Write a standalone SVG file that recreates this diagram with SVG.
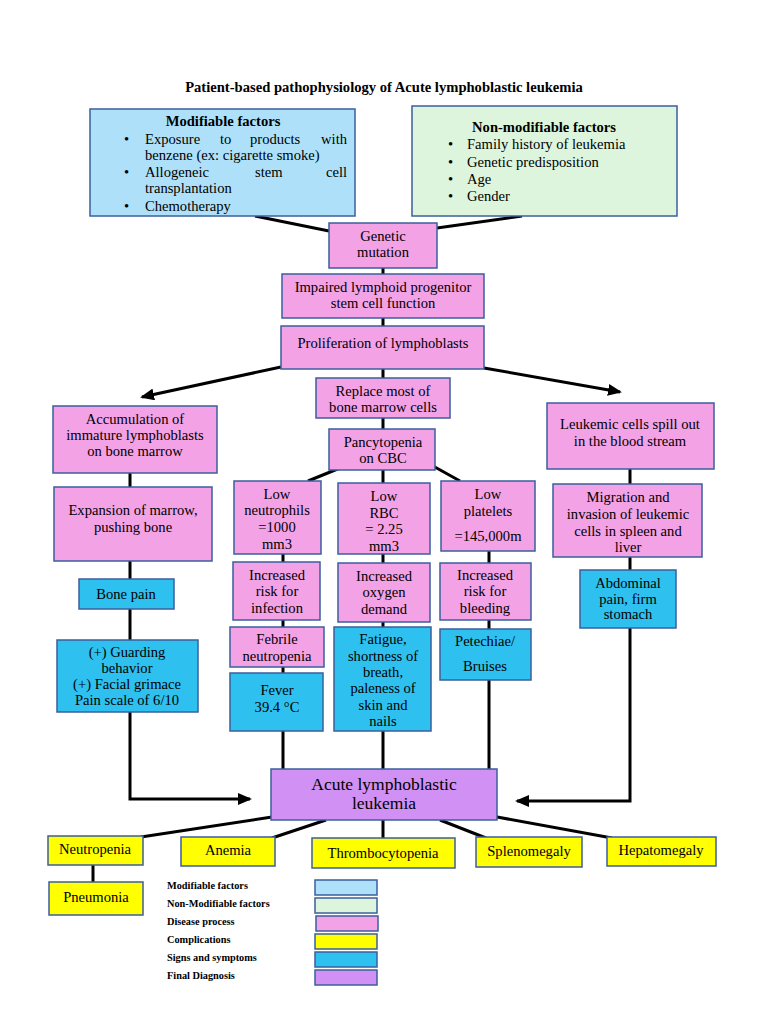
<svg xmlns="http://www.w3.org/2000/svg" width="768" height="1024" viewBox="0 0 768 1024">
<defs>
<marker id="ah2" markerWidth="14" markerHeight="12" refX="12" refY="6" orient="auto" markerUnits="userSpaceOnUse" viewBox="0 0 14 12">
<path d="M0,0 L14,6 L0,12 z" fill="#000"/>
</marker>
</defs>
<style>
text{font-family:"Liberation Serif","Times New Roman",serif;font-size:14.6px;fill:#000}
.c{text-anchor:middle}
.b{font-weight:bold}
.lg{font-size:10.3px;font-weight:bold}
rect{stroke:#3b5f9c;stroke-width:1.5}
.pk{fill:#f3a2e6}
.bl{fill:#2ec1ef}
.ye{fill:#ffff00}
.pu{fill:#d190f3}
.lb{fill:#aee1f9}
.lgn{fill:#ddf5dd}
.ln{stroke:#000;stroke-width:3;fill:none}
</style>
<rect width="768" height="1024" fill="#fff" style="stroke:none"/>
<text x="384" y="92" class="c b">Patient-based pathophysiology of Acute lymphoblastic leukemia</text>

<g id="connectors">
<path class="ln" d="M255,216 L329,231"/>
<path class="ln" d="M437,228 L522,216"/>
<path class="ln" d="M383,268 V274 M383,318 V326 M383,369 V378 M383,418 V429"/>
<path class="ln" d="M281,367 L142,397" marker-end="url(#ah2)"/>
<path class="ln" d="M484,368 L620,392" marker-end="url(#ah2)"/>
<path class="ln" d="M340,468 L308,481 M383,470 V483 M433,466 L460,481"/>
<path class="ln" d="M130,473 V487 M130,561 V579 M130,609 V640 M130,712 V799 L250,799" marker-end="url(#ah2)"/>
<path class="ln" d="M283,554 V562 M283,620 V627 M283,667 V673 M283,731 V769"/>
<path class="ln" d="M383,554 V563 M383,622 V627 M383,731 V769"/>
<path class="ln" d="M489,551 V563 M489,620 V629 M489,680 V769"/>
<path class="ln" d="M630,469 V484 M630,557 V570 M630,628 V801 L517,801" marker-end="url(#ah2)"/>
<path class="ln" d="M272,817 L141,837 M326,820 L272,838 M383,820 V838 M440,820 L486,838 M497,817 L612,838 M93,865 V882"/>
</g>

<g id="modifiable">
<rect x="90" y="109" width="265" height="107" class="lb"/>
<text x="223" y="126" class="c b">Modifiable factors</text>
<text x="124" y="144">•</text>
<text x="145" y="144">Exposure</text><text x="220" y="144">to</text><text x="250" y="144">products</text><text x="347" y="144" text-anchor="end">with</text>
<text x="145" y="160">benzene (ex: cigarette smoke)</text>
<text x="124" y="177">•</text>
<text x="145" y="177">Allogeneic</text><text x="255" y="177">stem</text><text x="347" y="177" text-anchor="end">cell</text>
<text x="145" y="193">transplantation</text>
<text x="124" y="211">•</text>
<text x="145" y="211">Chemotherapy</text>
</g>

<g id="nonmodifiable">
<rect x="412" y="106" width="265" height="110" class="lgn"/>
<text x="544" y="132" class="c b">Non-modifiable factors</text>
<text x="448" y="149">•</text><text x="467" y="149">Family history of leukemia</text>
<text x="448" y="167">•</text><text x="467" y="167">Genetic predisposition</text>
<text x="448" y="184">•</text><text x="467" y="184">Age</text>
<text x="448" y="201">•</text><text x="467" y="201">Gender</text>
</g>

<g id="genetic"><rect x="329" y="223" width="108" height="45" class="pk"/>
<text x="383" y="241" class="c">Genetic</text><text x="383" y="257" class="c">mutation</text></g>

<g id="impaired"><rect x="282" y="274" width="202" height="44" class="pk"/>
<text x="383" y="292" class="c">Impaired lymphoid progenitor</text><text x="383" y="308" class="c">stem cell function</text></g>

<g id="proliferation"><rect x="281" y="326" width="203" height="43" class="pk"/>
<text x="383" y="348" class="c">Proliferation of lymphoblasts</text></g>

<g id="replace"><rect x="316" y="378" width="134" height="40" class="pk"/>
<text x="383" y="396" class="c">Replace most of</text><text x="383" y="412" class="c">bone marrow cells</text></g>

<g id="pancytopenia"><rect x="329" y="429" width="106" height="41" class="pk"/>
<text x="383" y="447" class="c">Pancytopenia</text><text x="383" y="463" class="c">on CBC</text></g>

<g id="accumulation"><rect x="53" y="406" width="164" height="67" class="pk"/>
<text x="135" y="424" class="c">Accumulation of</text><text x="135" y="440" class="c">immature lymphoblasts</text><text x="135" y="456" class="c">on bone marrow</text></g>

<g id="expansion"><rect x="54" y="487" width="158" height="74" class="pk"/>
<text x="133" y="515" class="c">Expansion of marrow,</text><text x="133" y="532" class="c">pushing bone</text></g>

<g id="bonepain"><rect x="79" y="579" width="95" height="30" class="bl"/>
<text x="126" y="599" class="c">Bone pain</text></g>

<g id="guarding"><rect x="57" y="640" width="141" height="72" class="bl"/>
<text x="127" y="657" class="c">(+) Guarding</text><text x="127" y="673" class="c">behavior</text><text x="127" y="689" class="c">(+) Facial grimace</text><text x="127" y="705" class="c">Pain scale of 6/10</text></g>

<g id="lowneut"><rect x="234" y="481" width="87" height="73" class="pk"/>
<text x="277" y="499" class="c">Low</text><text x="277" y="515" class="c">neutrophils</text><text x="277" y="532" class="c">=1000</text><text x="277" y="549" class="c">mm3</text></g>

<g id="lowrbc"><rect x="338" y="483" width="92" height="71" class="pk"/>
<text x="384" y="501" class="c">Low</text><text x="384" y="518" class="c">RBC</text><text x="384" y="534" class="c">= 2.25</text><text x="384" y="551" class="c">mm3</text></g>

<g id="lowplt"><rect x="441" y="481" width="94" height="70" class="pk"/>
<text x="488" y="499" class="c">Low</text><text x="488" y="516" class="c">platelets</text><text x="488" y="541" class="c">=145,000m</text></g>

<g id="riskinf"><rect x="233" y="562" width="87" height="58" class="pk"/>
<text x="277" y="580" class="c">Increased</text><text x="277" y="596" class="c">risk for</text><text x="277" y="613" class="c">infection</text></g>

<g id="oxy"><rect x="338" y="563" width="92" height="59" class="pk"/>
<text x="384" y="581" class="c">Increased</text><text x="384" y="597" class="c">oxygen</text><text x="384" y="614" class="c">demand</text></g>

<g id="riskbleed"><rect x="440" y="563" width="91" height="57" class="pk"/>
<text x="485" y="580" class="c">Increased</text><text x="485" y="596" class="c">risk for</text><text x="485" y="613" class="c">bleeding</text></g>

<g id="febrile"><rect x="230" y="627" width="94" height="40" class="pk"/>
<text x="277" y="644" class="c">Febrile</text><text x="277" y="661" class="c">neutropenia</text></g>

<g id="fever"><rect x="230" y="673" width="93" height="58" class="bl"/>
<text x="277" y="695" class="c">Fever</text><text x="277" y="712" class="c">39.4 °C</text></g>

<g id="fatigue"><rect x="334" y="627" width="97" height="104" class="bl"/>
<text x="383" y="644" class="c">Fatigue,</text><text x="383" y="661" class="c">shortness of</text><text x="383" y="677" class="c">breath,</text><text x="383" y="693" class="c">paleness of</text><text x="383" y="710" class="c">skin and</text><text x="383" y="726" class="c">nails</text></g>

<g id="petechiae"><rect x="440" y="629" width="91" height="51" class="bl"/>
<text x="485" y="646" class="c">Petechiae/</text><text x="485" y="671" class="c">Bruises</text></g>

<g id="spill"><rect x="547" y="403" width="167" height="66" class="pk"/>
<text x="630" y="429" class="c">Leukemic cells spill out</text><text x="630" y="446" class="c">in the blood stream</text></g>

<g id="migration"><rect x="553" y="484" width="149" height="73" class="pk"/>
<text x="628" y="502" class="c">Migration and</text><text x="628" y="519" class="c">invasion of leukemic</text><text x="628" y="536" class="c">cells in spleen and</text><text x="628" y="552" class="c">liver</text></g>

<g id="abdominal"><rect x="580" y="570" width="96" height="58" class="bl"/>
<text x="628" y="588" class="c">Abdominal</text><text x="628" y="604" class="c">pain, firm</text><text x="628" y="619" class="c">stomach</text></g>

<g id="all"><rect x="271" y="769" width="226" height="51" class="pu"/>
<text x="384" y="790" class="c" style="font-size:17.5px">Acute lymphoblastic</text><text x="384" y="809" class="c" style="font-size:17.5px">leukemia</text></g>

<g id="neutropenia"><rect x="48" y="836" width="95" height="29" class="ye"/>
<text x="95" y="854" class="c">Neutropenia</text></g>
<g id="anemia"><rect x="181" y="837" width="94" height="29" class="ye"/>
<text x="228" y="855" class="c">Anemia</text></g>
<g id="thrombo"><rect x="312" y="838" width="143" height="30" class="ye"/>
<text x="383" y="858" class="c">Thrombocytopenia</text></g>
<g id="spleno"><rect x="476" y="837" width="106" height="30" class="ye"/>
<text x="529" y="856" class="c">Splenomegaly</text></g>
<g id="hepato"><rect x="607" y="837" width="109" height="29" class="ye"/>
<text x="661" y="855" class="c">Hepatomegaly</text></g>
<g id="pneumonia"><rect x="49" y="882" width="94" height="33" class="ye"/>
<text x="96" y="902" class="c">Pneumonia</text></g>

<g id="legend">
<text x="167" y="889" class="lg">Modifiable factors</text><rect x="315" y="880" width="62" height="15" class="lb"/>
<text x="167" y="907" class="lg">Non-Modifiable factors</text><rect x="315" y="898" width="62" height="15" class="lgn"/>
<text x="167" y="925" class="lg">Disease process</text><rect x="316" y="916" width="62" height="15" class="pk"/>
<text x="167" y="943" class="lg">Complications</text><rect x="315" y="934" width="62" height="15" class="ye"/>
<text x="167" y="961" class="lg">Signs and symptoms</text><rect x="315" y="952" width="62" height="15" class="bl"/>
<text x="167" y="979" class="lg">Final Diagnosis</text><rect x="315" y="970" width="62" height="15" class="pu"/>
</g>
</svg>
